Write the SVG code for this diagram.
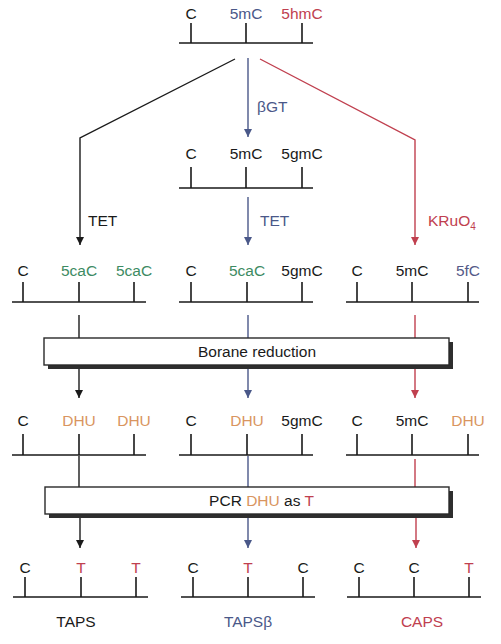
<svg xmlns="http://www.w3.org/2000/svg" width="501" height="644" viewBox="0 0 501 644">
<defs>
<style>
text{font-family:"Liberation Sans",Arial,sans-serif;font-size:15.5px;fill:#1a1a1a}
.m{text-anchor:middle}
.b{fill:#4a5889}.r{fill:#c0404f}.g{fill:#3d8b63}.o{fill:#d9955f}.p{fill:#555a88}
.dna{stroke:#1a1a1a;stroke-width:1.6;fill:none}
.ck{stroke:#1a1a1a;stroke-width:1.4;fill:none}
.cb{stroke:#4a5889;stroke-width:1.4;fill:none}
.cr{stroke:#c0404f;stroke-width:1.4;fill:none}
.box{fill:#fff;stroke:#2a2a2a;stroke-width:1.4}
.sh{fill:#2e2e2e}
</style>
<marker id="ak" viewBox="0 0 10 10" refX="10" refY="5" markerWidth="9" markerHeight="8" markerUnits="userSpaceOnUse" orient="auto"><path d="M0,0 L10,5 L0,10 Z" fill="#1a1a1a"/></marker>
<marker id="ab" viewBox="0 0 10 10" refX="10" refY="5" markerWidth="9" markerHeight="8" markerUnits="userSpaceOnUse" orient="auto"><path d="M0,0 L10,5 L0,10 Z" fill="#4a5889"/></marker>
<marker id="ar" viewBox="0 0 10 10" refX="10" refY="5" markerWidth="9" markerHeight="8" markerUnits="userSpaceOnUse" orient="auto"><path d="M0,0 L10,5 L0,10 Z" fill="#c0404f"/></marker>
</defs>
<rect width="501" height="644" fill="#fff"/>

<g id="connectors">
<path class="ck" d="M235,59 L80,138 L80,245" marker-end="url(#ak)"/>
<path class="cb" d="M248,58 L248,137" marker-end="url(#ab)"/>
<path class="cr" d="M260,59 L415,140 L415,245" marker-end="url(#ar)"/>
<path class="cb" d="M248,197 L248,245" marker-end="url(#ab)"/>
<path class="ck" d="M79,315 L79,338"/>
<path class="cb" d="M248,315 L248,338"/>
<path class="cr" d="M415,315 L415,338"/>
<path class="ck" d="M79,369 L79,398" marker-end="url(#ak)"/>
<path class="cb" d="M248,369 L248,398" marker-end="url(#ab)"/>
<path class="cr" d="M415,369 L415,398" marker-end="url(#ar)"/>
<path class="ck" d="M79,456 L79,487"/>
<path class="cb" d="M248,456 L248,487"/>
<path class="cr" d="M415,459 L415,487"/>
<path class="ck" d="M80,518 L80,548" marker-end="url(#ak)"/>
<path class="cb" d="M248,518 L248,548" marker-end="url(#ab)"/>
<path class="cr" d="M416,518 L416,548" marker-end="url(#ar)"/>
<text x="257" y="112" class="b">βGT</text>
<text x="260" y="226" class="b">TET</text>
<text x="88" y="226">TET</text>
<text x="428" y="226" class="r">KRuO<tspan font-size="10" dy="4">4</tspan></text>
</g>

<g id="top">
<path class="dna" d="M179,43 H313 M191,43 V23 M246,43 V23 M302,43 V23"/>
<text x="191" y="19" class="m">C</text>
<text x="246" y="19" class="m b">5mC</text>
<text x="302" y="19" class="m r">5hmC</text>
</g>

<g id="bgt">
<path class="dna" d="M179,188 H313 M191,188 V167 M246,188 V167 M302,188 V167"/>
<text x="191" y="159" class="m">C</text>
<text x="246" y="159" class="m">5mC</text>
<text x="302" y="159" class="m">5gmC</text>
</g>

<g id="r3-left">
<path class="dna" d="M12,302 H146 M23,302 V282 M79,302 V282 M134,302 V282"/>
<text x="23" y="276" class="m">C</text>
<text x="79" y="276" class="m g">5caC</text>
<text x="134" y="276" class="m g">5caC</text>
</g>
<g id="r3-mid">
<path class="dna" d="M179,302 H313 M191,302 V282 M247,302 V282 M302,302 V282"/>
<text x="191" y="276" class="m">C</text>
<text x="247" y="276" class="m g">5caC</text>
<text x="302" y="276" class="m">5gmC</text>
</g>
<g id="r3-right">
<path class="dna" d="M346,302 H479 M357,302 V282 M412,302 V282 M468,302 V282"/>
<text x="357" y="276" class="m">C</text>
<text x="412" y="276" class="m">5mC</text>
<text x="468" y="276" class="m p">5fC</text>
</g>

<g id="borane">
<rect class="sh" x="48" y="342" width="405" height="27"/>
<rect class="box" x="44" y="338" width="405" height="27"/>
<text x="257" y="357" class="m">Borane reduction</text>
</g>

<g id="r4-left">
<path class="dna" d="M12,455 H146 M23,455 V434 M79,455 V434 M134,455 V434"/>
<text x="23" y="426" class="m">C</text>
<text x="79" y="426" class="m o">DHU</text>
<text x="134" y="426" class="m o">DHU</text>
</g>
<g id="r4-mid">
<path class="dna" d="M179,455 H313 M191,455 V434 M247,455 V434 M302,455 V434"/>
<text x="191" y="426" class="m">C</text>
<text x="247" y="426" class="m o">DHU</text>
<text x="302" y="426" class="m">5gmC</text>
</g>
<g id="r4-right">
<path class="dna" d="M346,455 H479 M357,455 V434 M412,455 V434 M468,455 V434"/>
<text x="357" y="426" class="m">C</text>
<text x="412" y="426" class="m">5mC</text>
<text x="468" y="426" class="m o">DHU</text>
</g>

<g id="pcr">
<rect class="sh" x="49" y="491" width="404" height="27"/>
<rect class="box" x="45" y="487" width="404" height="27"/>
<text x="261.5" y="506" class="m">PCR <tspan class="o">DHU</tspan> as <tspan class="r">T</tspan></text>
</g>

<g id="taps">
<path class="dna" d="M13,597 H148 M25,597 V577 M81,597 V577 M136,597 V577"/>
<text x="25" y="573" class="m">C</text>
<text x="81" y="573" class="m r">T</text>
<text x="136" y="573" class="m r">T</text>
<text x="76" y="627" class="m">TAPS</text>
</g>
<g id="tapsb">
<path class="dna" d="M181,597 H315 M193,597 V577 M248,597 V577 M303,597 V577"/>
<text x="193" y="573" class="m">C</text>
<text x="248" y="573" class="m r">T</text>
<text x="303" y="573" class="m">C</text>
<text x="248" y="627" class="m b">TAPSβ</text>
</g>
<g id="caps">
<path class="dna" d="M347,597 H481 M359,597 V577 M414,597 V577 M469,597 V577"/>
<text x="359" y="573" class="m">C</text>
<text x="414" y="573" class="m">C</text>
<text x="469" y="573" class="m r">T</text>
<text x="422" y="627" class="m r">CAPS</text>
</g>
</svg>
